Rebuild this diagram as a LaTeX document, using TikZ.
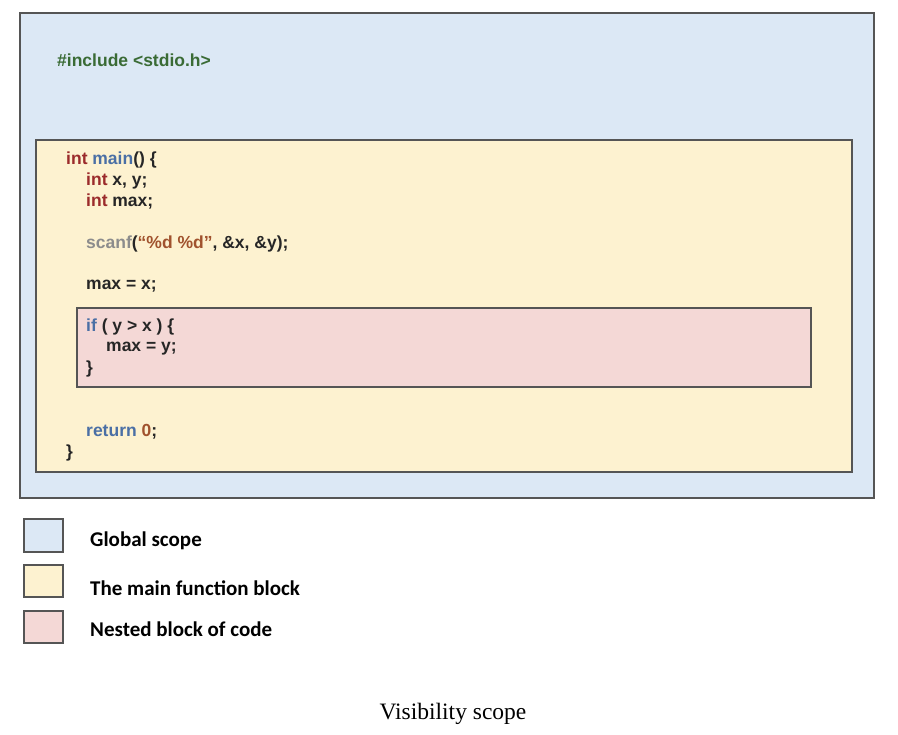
\documentclass[tikz,border=0pt]{standalone}
\usepackage{fontspec}
\setmainfont{Liberation Sans}
\newfontfamily\calib{Carlito}
\newfontfamily\serifc{Liberation Serif}
\definecolor{kw}{HTML}{9B2B2B}
\definecolor{fn}{HTML}{4A6FA5}
\definecolor{gr}{HTML}{8C8C8C}
\definecolor{st}{HTML}{A0522D}
\definecolor{inc}{HTML}{3A6B35}
\definecolor{cblue}{HTML}{DCE8F5}
\definecolor{cyel}{HTML}{FDF2D0}
\definecolor{cred}{HTML}{F4D8D6}
\definecolor{bd}{HTML}{555555}
\begin{document}
\begin{tikzpicture}[x=1pt,y=-1pt,
  scopebox/.style={draw=bd,line width=1.2pt},
  code/.style={anchor=west,inner sep=0pt,font=\bfseries\fontsize{17.5}{17.5}\selectfont,text=black!85},
  leg/.style={anchor=west,inner sep=0pt,font=\calib\bfseries\fontsize{21}{21}\selectfont}]
\useasboundingbox (0,0) rectangle (898,735);
\fill[white] (0,0) rectangle (898,735);
\draw[scopebox,fill=cblue] (20,13) rectangle (874,498);
\draw[scopebox,fill=cyel] (36,140) rectangle (852,472);
\draw[scopebox,fill=cred] (77,308) rectangle (811,387);
\node[code] (inc) at (57,60) {\textcolor{inc}{\#include <stdio.h>}};
\node[code] (l1) at (66,160) {\textcolor{kw}{int} \textcolor{fn}{main}() \{};
\node[code] (l2) at (86,181) {\textcolor{kw}{int} x, y;};
\node[code] (l3) at (86,202) {\textcolor{kw}{int} max;};
\node[code] (l4) at (86,244) {\textcolor{gr}{scanf}(\textcolor{st}{“\%d \%d”}, \&x, \&y);};
\node[code] (l5) at (86,286) {max = x;};
\node[code] (l6) at (86,327) {\textcolor{fn}{if} ( y > x ) \{};
\node[code] (l7) at (106,349) {max = y;};
\node[code] (l8) at (86,369) {\}};
\node[code] (l9) at (86,432) {\textcolor{fn}{return} \textcolor{st}{0};};
\node[code] (l10) at (66,453) {\}};
\draw[scopebox,fill=cblue] (24,519) rectangle (63,552);
\draw[scopebox,fill=cyel] (24,565) rectangle (63,597);
\draw[scopebox,fill=cred] (24,611) rectangle (63,643);
\node[leg] (g1) at (90,541) {Global scope};
\node[leg] (g2) at (90,588) {The main function block};
\node[leg] (g3) at (90,629) {Nested block of code};
\node[font=\serifc\fontsize{23.5}{23.5}\selectfont] (cap) at (453,714) {Visibility scope};
\end{tikzpicture}
\end{document}
